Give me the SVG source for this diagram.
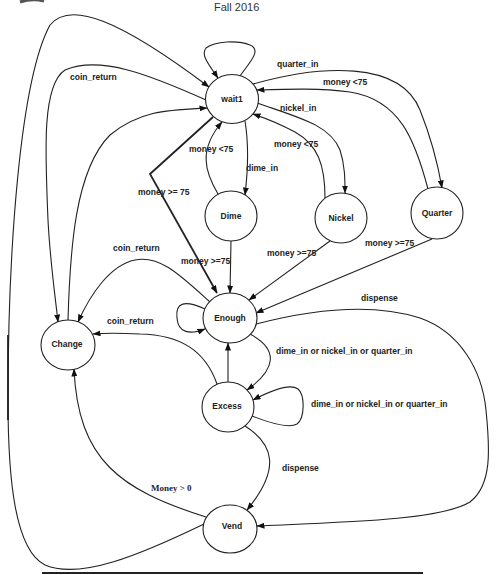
<svg xmlns="http://www.w3.org/2000/svg" width="499" height="575" viewBox="0 0 499 575">
<style>
  .node { fill: #ffffff; stroke: #222222; stroke-width: 1.1; }
  .edge { fill: none; stroke: #222222; stroke-width: 1.1; }
  .thick { stroke-width: 1.8; }
  .t { font-family: "Liberation Sans", Arial, sans-serif; font-size: 8.5px; font-weight: bold; fill: #222222; }
  .c { text-anchor: middle; }
  .serif { font-family: "Liberation Serif", "Times New Roman", serif; font-size: 9px; font-weight: bold; fill: #1c2140; }
</style>
<defs>
  <marker id="arr" markerUnits="userSpaceOnUse" markerWidth="8" markerHeight="6" refX="7.5" refY="3" orient="auto">
    <path d="M0,0 L8,3 L0,6 z" fill="#111111"/>
  </marker>
</defs>
<rect width="499" height="575" fill="#ffffff"/>
<!-- page header remnants -->
<path d="M20 2 Q32 -2 44 1" fill="none" stroke="#555555" stroke-width="3"/>
<text x="214" y="11" style="font-family:'Liberation Sans',Arial,sans-serif;font-size:11px;fill:#333333">Fall 2016</text>
<line x1="42" y1="573" x2="423" y2="573" stroke="#222222" stroke-width="1.8"/>

<g id="connectors">
  <!-- wait1 self loop -->
  <path class="edge" d="M240 76 C250 62 262 50 250 45 C238 40 215 41 206 48 C200 55 210 66 218 78" marker-end="url(#arr)"/>
  <!-- Vend -> wait1 outer loop -->
  <path class="edge" d="M204 524 C140 555 80 580 45 565 C15 550 8 480 8 400 C8 250 20 80 50 25 C70 0 120 20 209 87" marker-end="url(#arr)"/>
  <path d="M8 335 L8 420" fill="none" stroke="#222222" stroke-width="1.8"/>
  <!-- wait1 -> Change coin_return -->
  <path class="edge" d="M206 100 C150 75 100 55 65 70 C42 85 45 150 48 220 C50 260 55 295 58 322" marker-end="url(#arr)"/>
  <!-- Change -> wait1 -->
  <path class="edge" d="M68 320 C70 250 75 170 110 135 C140 110 170 110 207 108" marker-end="url(#arr)"/>
  <!-- wait1 -> Enough money >= 75 -->
  <path class="edge thick" d="M213 117 L150 174 L217 293" marker-end="url(#arr)"/>
  <!-- wait1 -> Dime dime_in -->
  <path class="edge" d="M245 121 C249 145 248 170 245 195" marker-end="url(#arr)"/>
  <!-- Dime -> wait1 money <75 -->
  <path class="edge" d="M218 194 C205 172 198 150 222 122" marker-end="url(#arr)"/>
  <!-- wait1 -> Nickel nickel_in -->
  <path class="edge" d="M257 103 C300 118 330 125 340 150 C345 165 345 180 345 193" marker-end="url(#arr)"/>
  <!-- Nickel -> wait1 money <75 -->
  <path class="edge" d="M325 198 C325 165 318 145 295 132 C280 124 268 119 253 114" marker-end="url(#arr)"/>
  <!-- wait1 -> Quarter quarter_in -->
  <path class="edge" d="M253 84 C320 65 400 60 420 110 C432 140 438 165 442 188" marker-end="url(#arr)"/>
  <!-- Quarter -> wait1 money <75 -->
  <path class="edge" d="M428 189 C415 140 400 100 350 92 C320 88 290 89 257 90" marker-end="url(#arr)"/>
  <!-- Dime -> Enough -->
  <path class="edge" d="M231 241 L230 293" marker-end="url(#arr)"/>
  <!-- Nickel -> Enough -->
  <path class="edge" d="M330 241 L249 300" marker-end="url(#arr)"/>
  <!-- Quarter -> Enough -->
  <path class="edge" d="M432 239 L256 313" marker-end="url(#arr)"/>
  <!-- Enough self loop -->
  <path class="edge" d="M205 309 C185 300 175 302 177 318 C178 333 190 335 205 329" marker-end="url(#arr)"/>
  <!-- Enough -> Change coin_return -->
  <path class="edge" d="M210 302 C180 275 160 255 135 260 C110 265 90 295 78 322" marker-end="url(#arr)"/>
  <!-- Excess -> Change coin_return -->
  <path class="edge" d="M217 384 C205 350 180 335 140 334 C120 333 105 333 93 334" marker-end="url(#arr)"/>
  <!-- Excess -> Enough -->
  <path class="edge" d="M228 382 L228 343" marker-end="url(#arr)"/>
  <!-- Enough -> Excess -->
  <path class="edge" d="M250 334 C280 350 275 370 247 390" marker-end="url(#arr)"/>
  <!-- Excess self loop -->
  <path class="edge" d="M252 416 C275 425 290 428 297 424 C305 418 305 395 298 389 C290 383 272 390 253 400" marker-end="url(#arr)"/>
  <!-- Excess -> Vend dispense -->
  <path class="edge" d="M245 426 C275 445 280 470 247 510" marker-end="url(#arr)"/>
  <!-- Enough -> Vend dispense -->
  <path class="edge" d="M256 324 C310 310 370 302 420 318 C460 332 482 370 486 410 C490 450 492 485 470 502 C440 520 350 522 257 526" marker-end="url(#arr)"/>
  <!-- Vend -> Change Money > 0 -->
  <path class="edge" d="M206 517 C120 490 78 460 74 369" marker-end="url(#arr)"/>
</g>

<g id="edge-labels">
  <text class="t" x="70" y="80">coin_return</text>
  <text class="t" x="138" y="195">money &gt;= 75</text>
  <text class="t" x="189" y="152">money &lt;75</text>
  <text class="t" x="246" y="171">dime_in</text>
  <text class="t" x="280" y="111">nickel_in</text>
  <text class="t" x="274" y="147">money &lt;75</text>
  <text class="t" x="277" y="67">quarter_in</text>
  <text class="t" x="323" y="85">money &lt;75</text>
  <text class="t" x="181" y="264">money &gt;=75</text>
  <text class="t" x="267" y="256">money &gt;=75</text>
  <text class="t" x="365" y="246">money &gt;=75</text>
  <text class="t" x="113" y="251">coin_return</text>
  <text class="t" x="107" y="324">coin_return</text>
  <text class="t" x="361" y="301">dispense</text>
  <text class="t" x="276" y="354">dime_in or nickel_in or quarter_in</text>
  <text class="t" x="311" y="407">dime_in or nickel_in or quarter_in</text>
  <text class="t" x="282" y="471">dispense</text>
  <text class="serif" x="151" y="491">Money &gt; 0</text>
</g>

<g id="node-wait1"><ellipse class="node" cx="232" cy="99" rx="26.5" ry="24.5"/><text class="t c" x="232" y="102">wait1</text></g>
<g id="node-Dime"><ellipse class="node" cx="231" cy="216" rx="26" ry="25"/><text class="t c" x="231" y="219">Dime</text></g>
<g id="node-Nickel"><ellipse class="node" cx="341" cy="218" rx="26" ry="25"/><text class="t c" x="341" y="221">Nickel</text></g>
<g id="node-Quarter"><ellipse class="node" cx="437" cy="213" rx="26" ry="26"/><text class="t c" x="437" y="216">Quarter</text></g>
<g id="node-Enough"><ellipse class="node" cx="230" cy="318" rx="27" ry="25"/><text class="t c" x="230" y="321">Enough</text></g>
<g id="node-Change"><ellipse class="node" cx="68" cy="345" rx="27" ry="25"/><text class="t c" x="67" y="347">Change</text></g>
<g id="node-Excess"><ellipse class="node" cx="228" cy="407" rx="26" ry="25"/><text class="t c" x="227" y="409">Excess</text></g>
<g id="node-Vend"><ellipse class="node" cx="230" cy="529" rx="27" ry="24"/><text class="t c" x="232" y="529">Vend</text></g>
</svg>
